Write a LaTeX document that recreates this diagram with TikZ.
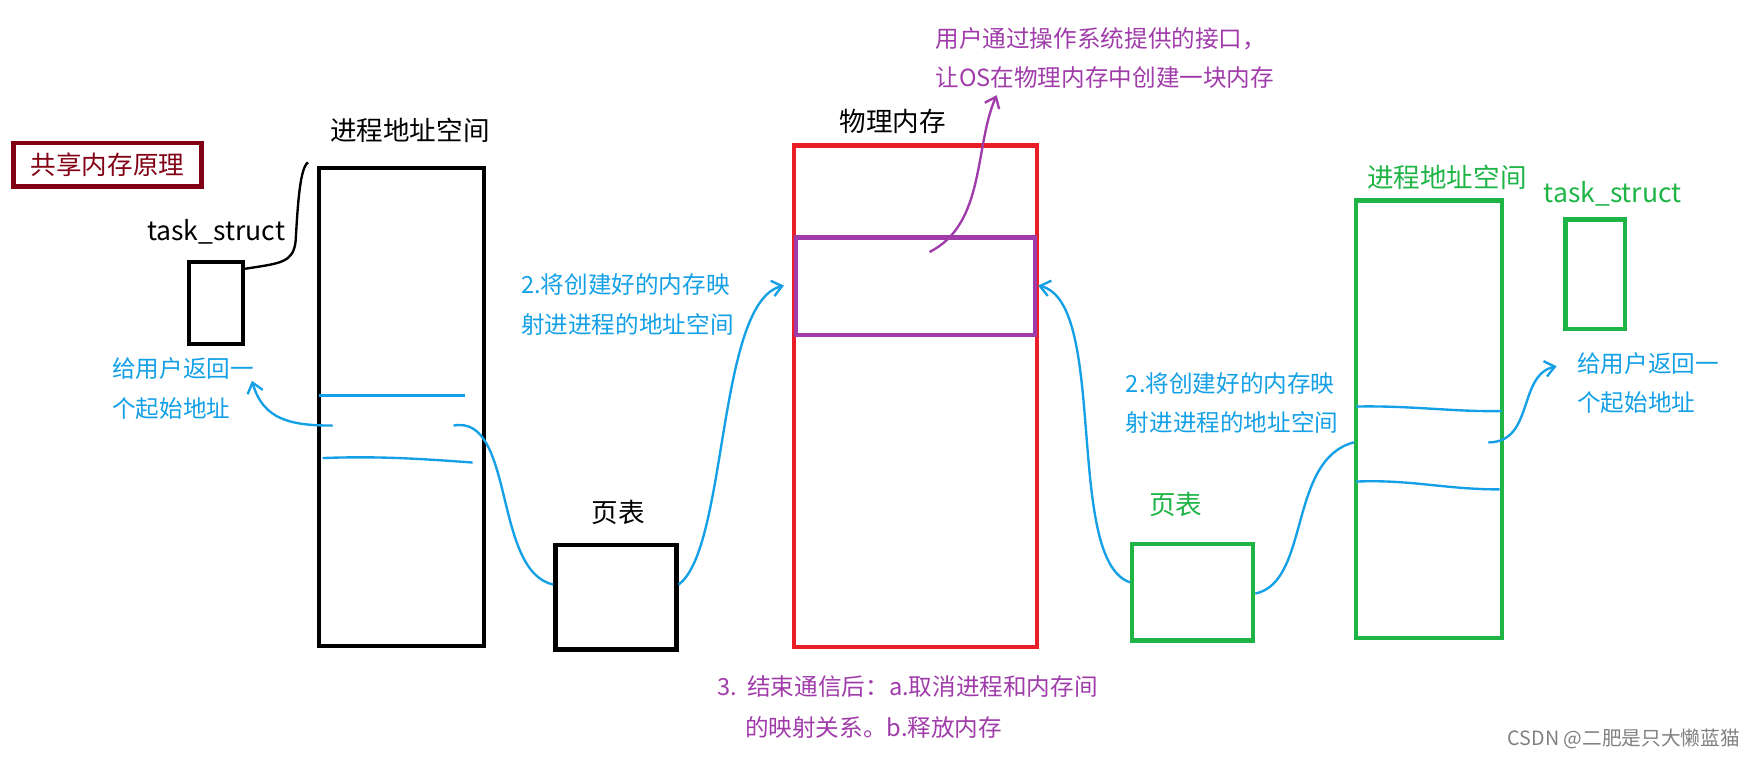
\documentclass[tikz,border=0pt]{standalone}
\usepackage{fontspec}
\setmainfont{Noto Sans CJK SC}
\usetikzlibrary{arrows.meta}
\definecolor{myblue}{RGB}{20,160,230}
\definecolor{mypurple}{RGB}{160,60,170}
\definecolor{mygreen}{RGB}{30,180,70}
\definecolor{myred}{RGB}{235,30,40}
\definecolor{mydred}{RGB}{130,0,20}
\tikzset{
 bx/.style={draw,line width=2.2pt,inner sep=0,anchor=north west},
 lbl/.style={inner sep=0,font=\fontsize{12}{14}\selectfont},
 bl/.style={myblue,line width=1.2pt},
 tip/.style={-{Straight Barb[length=5pt,width=8pt]}}
}
\newcommand{\bxx}[6]{\node[bx,#6,minimum width={(#4-#2)*0.02cm},minimum height={(#5-#3)*0.02cm}] (#1) at (#2,#3) {};}
\begin{document}
\begin{tikzpicture}[x=0.02cm,y=-0.02cm]
\useasboundingbox (0,0) rectangle (1568,677);
% title
\node[draw=mydred,line width=2.2pt,text=mydred,font=\fontsize{13}{15}\selectfont,minimum width=3.36cm,minimum height=0.78cm,inner sep=0] (title) at (96,147) {共享内存原理};
% left
\node[lbl,font=\fontsize{13.5}{15}\selectfont] (ts1) at (193,207) {task\_struct};
\bxx{tsb1}{167}{232}{215}{305}{black}
\bxx{vas1}{283}{148}{430}{575}{black}
\node[lbl,font=\fontsize{13.5}{15}\selectfont] (vl1) at (366,116) {进程地址空间};
\coordinate (c1) at (275,145);
\draw[line width=1.2pt] (tsb1.east|-0,240) .. controls (250,235) and (262,235) .. (264,215) .. controls (266,180) and (268,150) .. (c1);
\coordinate (l1a) at (285,353); \coordinate (l1b) at (415,353);
\draw[bl] (l1a) -- (l1b);
\coordinate (l2a) at (288,409); \coordinate (l2b) at (422,413);
\draw[bl] (l2a) .. controls (340,407) and (380,410) .. (l2b);
\coordinate (s1) at (297,380); \coordinate (a1) at (225,340);
\draw[bl,tip] (s1) .. controls (260,380) and (235,375) .. (a1);
\node[lbl,myblue,anchor=west,align=left] (t1) at (100,347) {给用户返回一\\[6pt]个起始地址};
\bxx{pt1}{494}{485}{602}{578}{black}
\node[lbl,font=\fontsize{13.5}{15}\selectfont] (ptl1) at (552,458) {页表};
\coordinate (s2) at (405,380);
\draw[bl] (s2) .. controls (460,370) and (440,510) .. (pt1.west|-0,522);
\draw[bl,tip] (pt1.east|-0,522) .. controls (650,490) and (640,270) .. (700,255);
\node[lbl,myblue,anchor=west,align=left] (t2) at (465,272) {2.将创建好的内存映\\[6pt]射进进程的地址空间};
% middle
\bxx{pm}{707}{128}{924}{576}{draw=myred}
\node[lbl,font=\fontsize{13.5}{15}\selectfont] (pml) at (797,108) {物理内存};
\bxx{blk}{709}{210}{922}{297}{draw=mypurple}
\coordinate (pa) at (830,225);
\draw[mypurple,line width=1.2pt,tip] (pa) .. controls (880,200) and (870,130) .. (890,85);
\node[lbl,mypurple,anchor=west,align=left] (t3) at (835,52) {用户通过操作系统提供的接口，\\[6pt]让OS在物理内存中创建一块内存};
\node[lbl,mypurple,anchor=west] (t4a) at (640,613) {3.\ \ 结束通信后：a.取消进程和内存间};
\node[lbl,mypurple,anchor=west] (t4b) at (665,650) {的映射关系。b.释放内存};
% right
\bxx{pt2}{1009}{484}{1117}{570}{draw=mygreen}
\node[lbl,mygreen,font=\fontsize{13.5}{15}\selectfont] (ptl2) at (1050,450) {页表};
\draw[bl,tip] (pt2.west|-0,520) .. controls (950,500) and (990,270) .. (927,255);
\node[lbl,myblue,anchor=west,align=left] (t5) at (1005,360) {2.将创建好的内存映\\[6pt]射进进程的地址空间};
\bxx{vas2}{1209}{177}{1339}{568}{draw=mygreen}
\node[lbl,mygreen,font=\fontsize{13.5}{15}\selectfont] (vl2) at (1292,158) {进程地址空间};
\bxx{tsb2}{1396}{194}{1449}{292}{draw=mygreen}
\node[lbl,mygreen,font=\fontsize{13.5}{15}\selectfont] (ts2) at (1440,173) {task\_struct};
\coordinate (r1a) at (1211,363); \coordinate (r1b) at (1341,367);
\draw[bl] (r1a) .. controls (1260,362) and (1300,368) .. (r1b);
\coordinate (r2a) at (1211,430); \coordinate (r2b) at (1339,437);
\draw[bl] (r2a) .. controls (1260,428) and (1290,437) .. (r2b);
\draw[bl] (pt2.east|-0,530) .. controls (1170,520) and (1150,410) .. (1209,395);
\coordinate (s3) at (1329,395); \coordinate (a3) at (1390,327);
\draw[bl,tip] (s3) .. controls (1370,395) and (1355,335) .. (a3);
\node[lbl,myblue,anchor=west,align=left] (t6) at (1408,342) {给用户返回一\\[6pt]个起始地址};
\node[inner sep=0,text=gray,font=\fontsize{10}{12}\selectfont] (wm) at (1450,660) {CSDN @二肥是只大懒蓝猫};
\end{tikzpicture}
\end{document}
